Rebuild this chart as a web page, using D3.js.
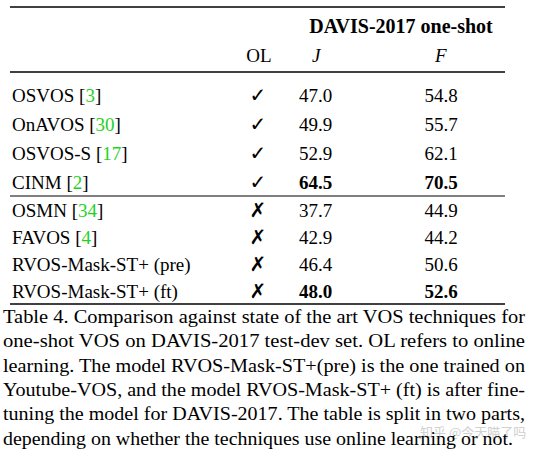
<!DOCTYPE html>
<html><head><meta charset="utf-8">
<script src="https://cdn.jsdelivr.net/npm/d3@7"></script>
<style>body{margin:0;background:#fff}</style>
</head><body><div id="c"></div>
<script>
// ---------- DATA ----------
const methods = ["OSVOS", "OnAVOS", "OSVOS-S", "CINM", "OSMN", "FAVOS", "RVOS-Mask-ST+ (pre)", "RVOS-Mask-ST+ (ft)"];
const refs = ["3", "30", "17", "2", "34", "4", "", ""];
const online = [true, true, true, true, false, false, false, false];
const jScores = [47.0, 49.9, 52.9, 64.5, 37.7, 42.9, 46.4, 48.0];
const fScores = [54.8, 55.7, 62.1, 70.5, 44.9, 44.2, 50.6, 52.6];
const boldRows = [3, 7];
const caption = [
  "Table 4. Comparison against state of the art VOS techniques for",
  "one-shot VOS on DAVIS-2017 test-dev set.  OL refers to online",
  "learning.  The model RVOS-Mask-ST+(pre) is the one trained on",
  "Youtube-VOS, and the model RVOS-Mask-ST+ (ft) is after fine-",
  "tuning the model for DAVIS-2017. The table is split in two parts,",
  "depending on whether the techniques use online learning or not."
];

// ---------- DRAW ----------
const W = 533, H = 453;
const svg = d3.select("#c").append("svg").attr("width", W).attr("height", H)
  .style("font-family", "Liberation Serif").style("font-size", "19px");

const rowsTop = d3.scaleBand().domain(d3.range(4)).range([80, 196]);
const rowsBot = d3.scaleBand().domain(d3.range(4, 8)).range([196, 304]);
const rowY = i => (i < 4 ? rowsTop(i) + rowsTop.bandwidth() / 2 : rowsBot(i) + rowsBot.bandwidth() / 2) + 7;

const hline = (y, w) => svg.append("line").attr("x1", 10).attr("x2", 505)
  .attr("y1", y).attr("y2", y).attr("stroke", "#000").attr("stroke-width", w);
hline(7, 1.3); hline(72, 1.3); hline(196, 1); hline(304, 1.3);

svg.append("text").attr("x", 401).attr("y", 33).attr("text-anchor", "middle")
  .attr("font-weight", "bold").attr("font-size", 20).text("DAVIS-2017 one-shot");
svg.append("text").attr("x", 259).attr("y", 62).attr("text-anchor", "middle").text("OL");
svg.append("text").attr("x", 312).attr("y", 62).attr("font-style", "italic").text("J");
svg.append("text").attr("x", 435).attr("y", 62).attr("font-style", "italic").text("F");

const rows = svg.selectAll("g.row").data(methods).enter().append("g")
  .attr("transform", (d, i) => `translate(0,${rowY(i)})`);

rows.append("text").attr("x", 12).each(function (d, i) {
  const t = d3.select(this);
  t.append("tspan").text(d);
  if (refs[i]) {
    t.append("tspan").text(" [");
    t.append("tspan").attr("fill", "#1fd21f").text(refs[i]);
    t.append("tspan").text("]");
  }
});
rows.append("text").attr("x", 258).attr("text-anchor", "middle")
  .attr("font-family", "DejaVu Sans").attr("font-weight", "bold").attr("font-size", 20)
  .text((d, i) => online[i] ? "\u2713" : "\u2717");
rows.append("text").attr("x", 299)
  .attr("font-weight", (d, i) => boldRows.includes(i) ? "bold" : null)
  .text((d, i) => jScores[i].toFixed(1));
rows.append("text").attr("x", 441).attr("text-anchor", "middle")
  .attr("font-weight", (d, i) => boldRows.includes(i) ? "bold" : null)
  .text((d, i) => fScores[i].toFixed(1));

svg.append("text").attr("x", 420).attr("y", 437).attr("fill", "#d0d0d0")
  .attr("font-family", "Noto Sans CJK SC").attr("font-size", 13).text("知乎 @今天喵了吗");

svg.selectAll("text.cap").data(caption).enter().append("text")
  .attr("x", 3).attr("y", (d, i) => 323 + i * 24.3)
  .attr("textLength", (d, i) => i === 5 ? 510 : 522).attr("lengthAdjust", "spacingAndGlyphs")
  .text(d => d);
</script></body></html>
